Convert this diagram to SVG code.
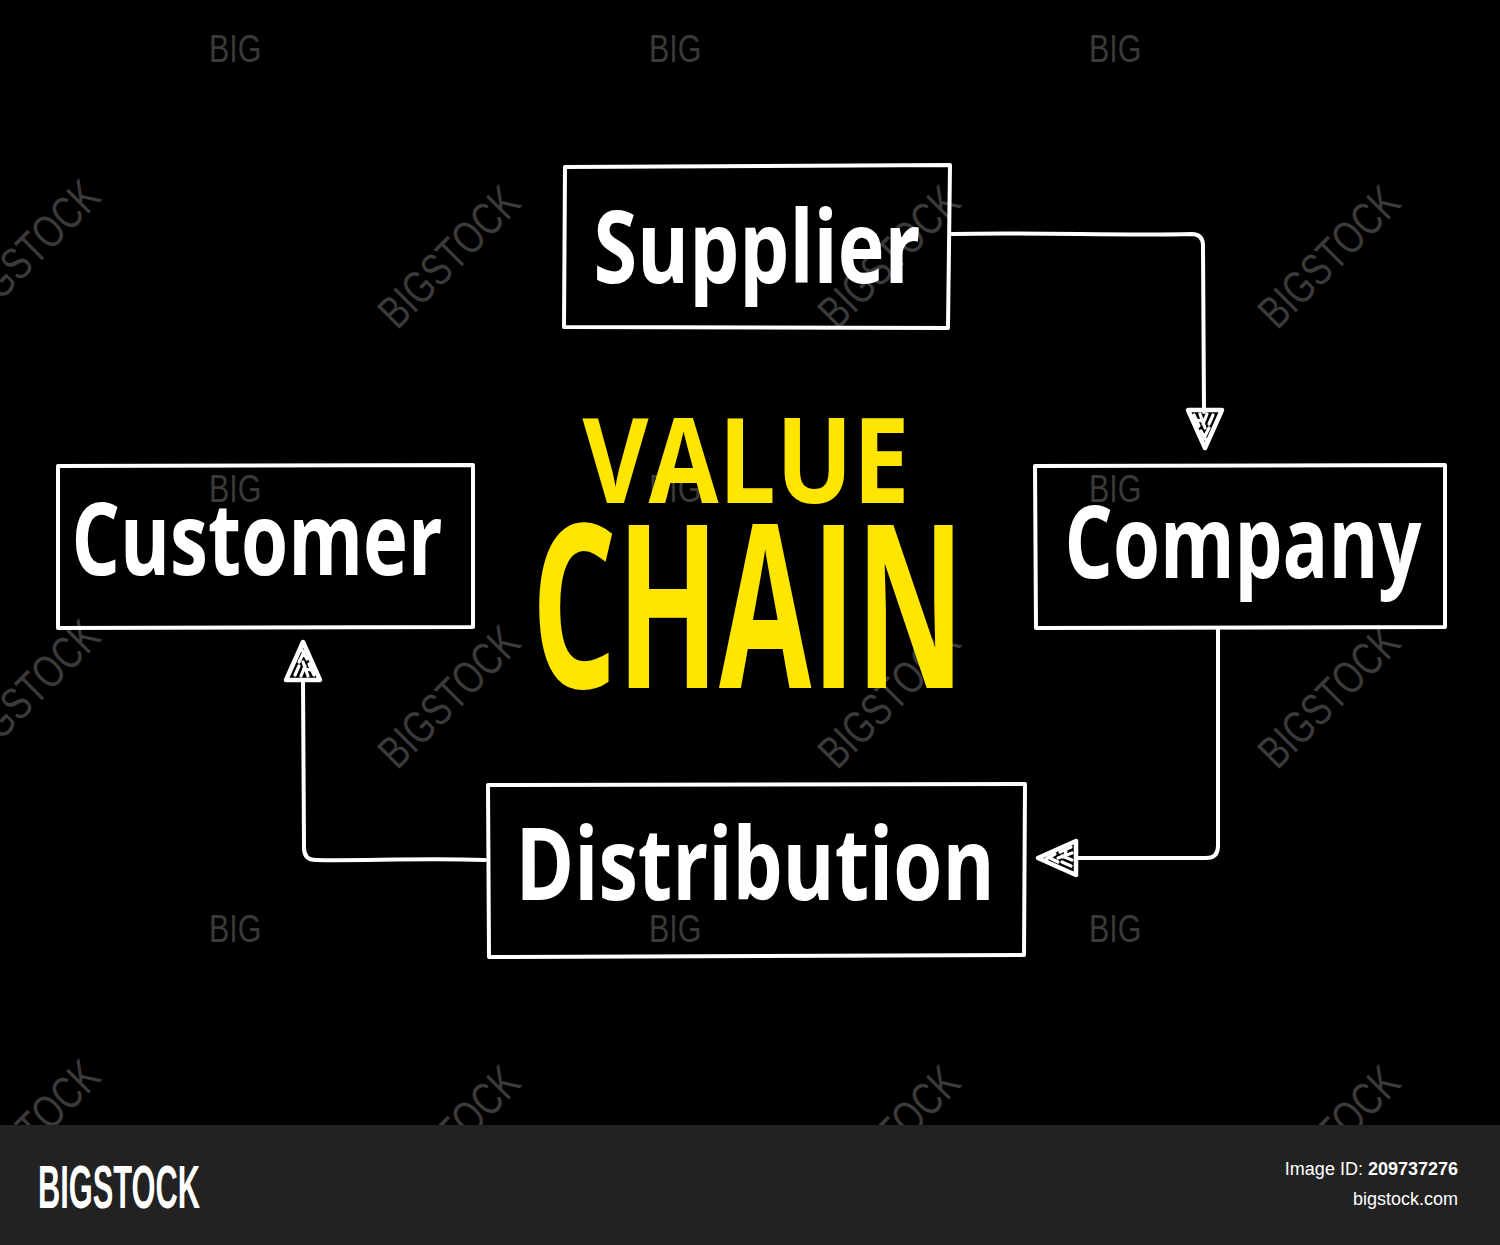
<svg xmlns="http://www.w3.org/2000/svg" width="1500" height="1245" viewBox="0 0 1500 1245">
<defs>
<style>
.box{fill:none;stroke:#fff;stroke-width:4;stroke-linejoin:round}
.lbl{fill:#fff;font-family:"Open Sans","DejaVu Sans",sans-serif;font-weight:700;text-anchor:middle}
.title{fill:#FFE600;font-family:"Open Sans","DejaVu Sans",sans-serif;font-weight:700;text-anchor:middle}
.conn{fill:none;stroke:#fff;stroke-width:4;stroke-linecap:round;stroke-linejoin:round}
.wm{fill:#3a3a3a;font-family:"Liberation Sans","DejaVu Sans",sans-serif;text-anchor:middle}
</style>
<g id="arrowhead">
<path d="M-17,-38 L17,-38 L0,0 Z" fill="none" stroke="#fff" stroke-width="4.5" stroke-linejoin="round"/>
<path d="M-11,-33 L-6,-22 M-5,-34 L0,-20 M2,-34 L-2,-24 M8,-33 L4,-24 M-4,-17 L1,-8 M4,-20 L-1,-10 M-8,-28 L-3,-27" stroke="#fff" stroke-width="3.2" stroke-linecap="round"/>
</g>
</defs>
<rect x="0" y="0" width="1500" height="1245" fill="#000"/>

<g id="watermarks">
<g class="wm" font-size="38" transform="scale(0.8,1)">
<text x="294" y="62">BIG</text><text x="844" y="62">BIG</text><text x="1394" y="62">BIG</text>
<text x="294" y="502">BIG</text><text x="844" y="502">BIG</text><text x="1394" y="502">BIG</text>
<text x="294" y="942">BIG</text><text x="844" y="942">BIG</text><text x="1394" y="942">BIG</text>
</g>
<g class="wm" font-size="46">
<text transform="translate(40,262) rotate(-45) scale(0.75,1)">BIGSTOCK</text>
<text transform="translate(460,268) rotate(-45) scale(0.75,1)">BIGSTOCK</text>
<text transform="translate(900,268) rotate(-45) scale(0.75,1)">BIGSTOCK</text>
<text transform="translate(1340,268) rotate(-45) scale(0.75,1)">BIGSTOCK</text>
<text transform="translate(40,702) rotate(-45) scale(0.75,1)">BIGSTOCK</text>
<text transform="translate(460,708) rotate(-45) scale(0.75,1)">BIGSTOCK</text>
<text transform="translate(900,708) rotate(-45) scale(0.75,1)">BIGSTOCK</text>
<text transform="translate(1340,708) rotate(-45) scale(0.75,1)">BIGSTOCK</text>
<text transform="translate(40,1142) rotate(-45) scale(0.75,1)">BIGSTOCK</text>
<text transform="translate(460,1148) rotate(-45) scale(0.75,1)">BIGSTOCK</text>
<text transform="translate(900,1148) rotate(-45) scale(0.75,1)">BIGSTOCK</text>
<text transform="translate(1340,1148) rotate(-45) scale(0.75,1)">BIGSTOCK</text>
</g>
</g>

<g id="connectors">
<path class="conn" d="M952,234 C1040,232 1120,236 1192,234 Q1203,234 1203,246 L1204,412"/>
<use href="#arrowhead" transform="translate(1205,448)"/>
<path class="conn" d="M1218,630 L1218,846 Q1218,858 1206,858 L1076,858"/>
<use href="#arrowhead" transform="translate(1038,858) rotate(90)"/>
<path class="conn" d="M485,860 C420,858 360,861 316,860 Q304,860 304,848 L303,680"/>
<use href="#arrowhead" transform="translate(303,642) rotate(180)"/>
</g>

<g id="node-supplier">
<path class="box" d="M565,167 L950,165 L948,328 L564,327 Z"/>
<text class="lbl" x="757" y="283" font-size="100" textLength="327" lengthAdjust="spacingAndGlyphs">Supplier</text>
</g>
<g id="node-customer">
<path class="box" d="M58,466 L473,465 L473,627 L58,628 Z"/>
<text class="lbl" x="257" y="575" font-size="100" textLength="371" lengthAdjust="spacingAndGlyphs">Customer</text>
</g>
<g id="node-company">
<path class="box" d="M1035,466 L1445,465 L1445,627 L1036,628 Z"/>
<text class="lbl" x="1243" y="578" font-size="100" textLength="357" lengthAdjust="spacingAndGlyphs">Company</text>
</g>
<g id="node-distribution">
<path class="box" d="M488,785 L1025,784 L1024,955 L489,957 Z"/>
<text class="lbl" x="755" y="900" font-size="100" textLength="479" lengthAdjust="spacingAndGlyphs">Distribution</text>
</g>
<g id="title">
<text class="title" x="746" y="503" font-size="118" textLength="327" lengthAdjust="spacingAndGlyphs">VALUE</text>
<text class="title" x="748" y="688" font-size="228" textLength="433" lengthAdjust="spacingAndGlyphs">CHAIN</text>
</g>

<g id="footer">
<rect x="0" y="1125" width="1500" height="120" fill="#222"/>
<text x="38" y="1208" fill="#fff" font-family="Liberation Sans, sans-serif" font-size="62" font-weight="700" textLength="162" lengthAdjust="spacingAndGlyphs">BIGSTOCK</text>
<text x="1458" y="1175" fill="#fff" font-family="Liberation Sans, sans-serif" font-size="18" text-anchor="end">Image ID: <tspan font-weight="700">209737276</tspan></text>
<text x="1458" y="1205" fill="#fff" font-family="Liberation Sans, sans-serif" font-size="18" text-anchor="end">bigstock.com</text>
</g>
</svg>
